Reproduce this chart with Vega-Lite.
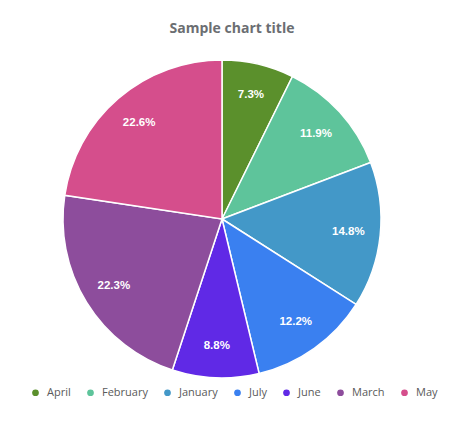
{
  "$schema": "https://vega.github.io/schema/vega-lite/v6.json",
  "width": 474,
  "height": 320,
  "autosize": {"type": "none"},
  "padding": {"top": 59, "left": 0, "right": 0, "bottom": 48},
  "background": "white",
  "config": {
    "view": {"stroke": "transparent"}
  },
  "title": {
    "text": "Sample chart title",
    "font": "Open Sans",
    "fontSize": 14,
    "fontWeight": "bold",
    "color": "#6b6e72",
    "offset": 21,
    "dx": -5
  },
  "data": {
    "values": [
      {"month": "April", "share": 0.073},
      {"month": "February", "share": 0.119},
      {"month": "January", "share": 0.148},
      {"month": "July", "share": 0.122},
      {"month": "June", "share": 0.088},
      {"month": "March", "share": 0.223},
      {"month": "May", "share": 0.226}
    ]
  },
  "encoding": {
    "theta": {"field": "share", "type": "quantitative", "stack": true},
    "order": {"field": "month", "type": "nominal", "sort": "ascending"}
  },
  "layer": [
    {
      "mark": {"type": "arc", "radius": 159, "xOffset": -15, "stroke": "white", "strokeWidth": 1.5},
      "encoding": {
        "color": {
          "field": "month",
          "type": "nominal",
          "scale": {
            "domain": ["April", "February", "January", "July", "June", "March", "May"],
            "range": ["#5b902c", "#5ec49b", "#4398c8", "#3a80f0", "#6029e6", "#8d4d9c", "#d54e8c"]
          },
          "legend": {
            "orient": "none",
            "legendX": 30,
            "legendY": 328,
            "direction": "horizontal",
            "title": null,
            "symbolType": "circle",
            "symbolSize": 45,
            "symbolStrokeWidth": 0,
            "labelFont": "Open Sans",
            "labelFontSize": 11,
            "labelColor": "#5a5a5a",
            "labelOffset": 6,
            "columnPadding": 14
          }
        }
      }
    },
    {
      "mark": {"type": "text", "radius": 127, "xOffset": -15, "fill": "white", "font": "Liberation Sans", "fontWeight": "bold", "fontSize": 11.5},
      "encoding": {
        "text": {"field": "share", "type": "quantitative", "format": ".1%"},
        "detail": {"field": "month", "type": "nominal"}
      }
    }
  ]
}
